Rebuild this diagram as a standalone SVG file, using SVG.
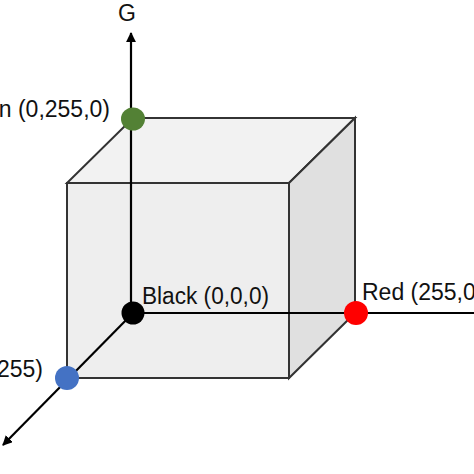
<svg xmlns="http://www.w3.org/2000/svg" width="474" height="474" viewBox="0 0 474 474">
<style>
.face{stroke:#333;stroke-width:2;stroke-linejoin:miter}
.axis{stroke:#000;stroke-width:2.2;fill:none}
.lbl{font-family:"Liberation Sans",Arial,sans-serif;font-size:23px;fill:#111}
</style>
<defs>
<marker id="arr" viewBox="0 0 10 10" refX="9" refY="5" markerWidth="4.5" markerHeight="4.5" orient="auto" markerUnits="strokeWidth">
<path d="M0,0 L10,5 L0,10 z" fill="#000"/>
</marker>
</defs>
<rect width="474" height="474" fill="#fff"/>
<g id="cube">
<polygon class="face" points="133,118 355,118 289,183 67,183" fill="#f2f2f2"/>
<polygon class="face" points="355,118 355,313 289,378 289,183" fill="#e0e0e0"/>
<rect class="face" x="67" y="183" width="222" height="195" fill="#eeeeee"/>
</g>
<g id="connectors">
<line class="axis" x1="131" y1="313" x2="131" y2="33" marker-end="url(#arr)"/>
<line class="axis" x1="133" y1="313" x2="476" y2="313"/>
<line class="axis" x1="133" y1="313" x2="3" y2="445" marker-end="url(#arr)"/>
</g>
<g id="axis-g"><text class="lbl" x="127" y="21" text-anchor="middle">G</text></g>
<g id="green">
<ellipse cx="133" cy="119" rx="12" ry="11.5" fill="#538135"/>
<text class="lbl" x="110" y="117" text-anchor="end">Green (0,255,0)</text>
</g>
<g id="black">
<circle cx="133" cy="313" r="11.5" fill="#000"/>
<text class="lbl" x="142" y="304" textLength="127" lengthAdjust="spacingAndGlyphs">Black (0,0,0)</text>
</g>
<g id="red">
<circle cx="356" cy="313" r="12" fill="#ff0000"/>
<text class="lbl" x="362" y="300">Red (255,0,0)</text>
</g>
<g id="blue">
<circle cx="67" cy="378" r="12" fill="#4472c4"/>
<text class="lbl" x="43" y="377" text-anchor="end">Blue (0,0,255)</text>
</g>
</svg>
